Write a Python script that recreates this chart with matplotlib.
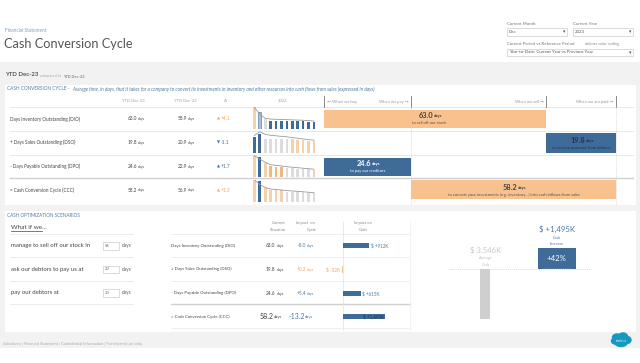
import matplotlib
matplotlib.use("Agg")
import matplotlib.pyplot as plt
from matplotlib.patches import Rectangle, Ellipse

plt.rcParams['font.family'] = ['Lato', 'DejaVu Sans']

# ---------------- data ----------------
metrics = ["Days Inventory Outstanding (DIO)", "+ Days Sales Outstanding (DSO)",
           "- Days Payable Outstanding (DPO)", "= Cash Conversion Cycle (CCC)"]
ytd_cur = [63.0, 19.8, 24.6, 58.2]
ytd_prev = [58.9, 20.9, 22.9, 56.9]
deltas = ["+4.1", "-1.1", "+1.7", "+1.3"]
delta_up = [True, False, True, True]
delta_good = [False, True, True, False]

months = list(range(12))
spark_bars = [
    [22, 17, 10.5, 8.7, 8.6, 8.5, 8.4, 8.3, 8.2, 8.0, 7.6, 7.0],
    [16, 18.3, 14, 14, 14, 14, 13.8, 13.5, 13.2, 12.8, 12.3, 11.7],
    [21.6, 20, 14, 10.8, 10.6, 10.4, 9.2, 9.0, 8.7, 8.3, 7.9, 7.5],
    [21.7, 20, 13.3, 11.7, 11.5, 11.3, 10, 9.8, 9.5, 9.2, 8.8, 8.3],
]
spark_line = [
    [22, 15, 11, 10.2, 10, 9.8, 9.6, 9.4, 9.2, 9.0, 8.7, 8.2],
    [17.3, 21, 18.5, 17.5, 17, 16.5, 16, 15.3, 14.6, 14, 13.3, 12.7],
    [21.6, 18, 15, 12.5, 11.8, 11.2, 10.5, 10, 9.5, 9, 8.5, 8],
    [21.7, 17, 14, 12.5, 12, 11.6, 11, 10.6, 10.2, 9.8, 9.3, 8.8],
]
spark_cls = [
    ["ol", "bl", "g", "b", "b", "b", "b", "b", "b", "b", "b", "b"],
    ["b", "b", "g", "g", "g", "g", "g", "ol", "ol", "ol", "ol", "ol"],
    ["ol", "b", "ol", "o", "o", "o", "g", "g", "g", "g", "g", "ol"],
    ["ol", "b", "ol", "ol", "ol", "ol", "g", "g", "g", "g", "g", "g"],
]

gantt_left = [0, 63.0, 0, 24.6]
gantt_width = [63.0, 19.8, 24.6, 58.2]
gantt_sub = ["to sell off our stock", "to receive payment from debtors",
             "to pay our creditors",
             "to convert your investments (e.g. inventory...) into cash inflows from sales"]
milestones = [0, 24.6, 63.0, 82.8]
milestone_labels = ["\u2190 When we buy", "When we pay \u2192", "When we sell \u2192", "When we are paid \u2192"]

scenario_text = ["manage to sell off our stock in", "ask our debtors to pay us at", "pay our debtors at"]
scenario_vals = ["56", "20", "30"]
impact_cycle = ["-8.0", "+0.2", "+5.4", "-13.2"]
impact_cash = [912, -32, 615, 1495]
impact_cash_lbl = ["$ +912K", "$ -32K", "$ +615K", "$ +1,495K"]

cash_cats = ["Average Cash", "Cash Increase"]
avg_cash = 3546
cash_increase = 1495

# ---------------- colours ----------------
BLUE = "#3f6b99"
BLUE_T = "#4e79a7"
ORANGE = "#f8c18d"
ORANGE_T = "#f3a65f"
GREY_BG = "#f2f2f2"
TXT = "#444444"
cmap = {"b": BLUE, "bl": "#a9bfd8", "g": "#dcdcdc", "ol": "#f6cfab", "o": "#f5b67c"}

W, H = 640, 363
fig = plt.figure(figsize=(6.4, 3.63), dpi=100)
cv = fig.add_axes([0, 0, 1, 1], zorder=0)
cv.set_xlim(0, W)
cv.set_ylim(H, 0)
cv.axis("off")
ov = fig.add_axes([0, 0, 1, 1], zorder=20)
ov.set_xlim(0, W)
ov.set_ylim(H, 0)
ov.axis("off")
ov.patch.set_alpha(0)


def ax_px(x0, y0, x1, y1):
    a = fig.add_axes([x0 / W, 1 - y1 / H, (x1 - x0) / W, (y1 - y0) / H], zorder=5)
    a.axis("off")
    a.patch.set_alpha(0)
    return a


def t(x, y, s, size=3.3, color=TXT, ha="left", va="center", **kw):
    return ov.text(x, y, s, fontsize=size, color=color, ha=ha, va=va, **kw)


def rect(x0, y0, x1, y1, fc, ec="none", lw=0.5, z=0):
    cv.add_patch(Rectangle((x0, y0), x1 - x0, y1 - y0, facecolor=fc, edgecolor=ec, lw=lw, zorder=z))


def hline(x0, x1, y, color="#e4e4e4", lw=0.6, ls="-"):
    cv.plot([x0, x1], [y, y], color=color, lw=lw, ls=ls)


def vline(x, y0, y1, color="#e4e4e4", lw=0.6, ls="-", top=False):
    (ov if top else cv).plot([x, x], [y0, y1], color=color, lw=lw, ls=ls)


# backgrounds
rect(0, 62, 640, 348, GREY_BG)
rect(5, 85, 636, 205, "white")
rect(5, 211, 636, 332, "white")

# header
t(5, 31, "Financial Statement", 3.4, "#7f9fc0")
t(4, 44, "Cash Conversion Cycle", 9.2, "#555555")

t(507, 24, "Current Month", 3.2, "#777777")
t(573, 24, "Current Year", 3.2, "#777777")
rect(507, 28, 567, 35.5, "white", "#cccccc", 0.5)
rect(573, 28, 633, 35.5, "white", "#cccccc", 0.5)
t(509, 31.8, "Dec", 3.2, "#555555")
t(575, 31.8, "2023", 3.2, "#555555")
t(564, 31.8, "\u25be", 3.5, "#555555", ha="center", family="DejaVu Sans")
t(630, 31.8, "\u25be", 3.5, "#555555", ha="center", family="DejaVu Sans")
t(507, 44, "Current Period vs Reference Period", 3.2, "#777777")
t(585, 44, "defines color coding", 3.0, "#888888", style="italic")
rect(507, 48.5, 633, 56, "white", "#cccccc", 0.5)
t(509, 52.3, "Year-to-Date: Current Year vs Previous Year", 3.2, "#555555")
t(630, 52.3, "\u25be", 3.5, "#555555", ha="center", family="DejaVu Sans")

t1 = t(5, 76, "YTD Dec-23", 4.3, "#555555", weight="bold", va="baseline")
t2 = ov.annotate("compared to", xy=(1, 0), xycoords=t1, xytext=(1.5, 0), textcoords="offset points",
                 fontsize=2.8, color="#aaaaaa", ha="left", va="baseline")
ov.annotate("YTD Dec-22", xy=(1, 0), xycoords=t2, xytext=(1.2, 0), textcoords="offset points",
            fontsize=2.8, color="#888888", weight="bold", ha="left", va="baseline")

# panel 1 title
t(7, 89, "CASH CONVERSION CYCLE - ", 3.45, BLUE_T)
t(72, 89, "Average time, in days, that it takes for a company to convert its investments in inventory "
          "and other resources into cash flows from sales (expressed in days)", 3.45, BLUE_T, style="italic")

# column headers
HC = "#8aa5c4"
t(133, 100.5, "YTD Dec-23", 3.0, HC, ha="center")
t(185, 100.5, "YTD Dec-22", 3.0, HC, ha="center")
t(225, 100.5, "\u0394", 3.2, HC, ha="center", family="DejaVu Sans")
t(283, 100.5, "2023", 3.0, HC, ha="center")

row_y = [119.0, 142.7, 166.7, 190.0]
for y in [106.7, 130.7, 155.0]:
    hline(10, 633, y)
hline(10, 633, 178.3, "#d0d0d0", 1.0)

for i in range(4):
    y = row_y[i]
    t(10, y, metrics[i], 3.3, TXT)
    t(137, y, f"{ytd_cur[i]:.1f}", 3.4, TXT, ha="right")
    t(137.6, y + 0.4, "days", 2.5, TXT)
    t(187, y, f"{ytd_prev[i]:.1f}", 3.4, TXT, ha="right")
    t(187.6, y + 0.4, "days", 2.5, TXT)
    col = BLUE if delta_good[i] else ORANGE_T
    t(217, y, "\u25b2" if delta_up[i] else "\u25bc", 2.8, col, family="DejaVu Sans")
    t(220.3, y, deltas[i], 3.4, col)

# sparklines
spark_rows = [(107, 129.3), (131.5, 153.3), (155.3, 177.3), (179.5, 201.7)]
for i, (y0, y1) in enumerate(spark_rows):
    a = ax_px(251.6, y0, 316.7, y1)
    cols = [cmap[c] for c in spark_cls[i]]
    bars = a.bar(months, spark_bars[i], width=0.5, color=cols)
    if i == 0:
        bars[1].set_edgecolor(BLUE)
        bars[1].set_linewidth(0.4)
    a.plot(months, spark_line[i], color="#9a9a9a", lw=0.6)
    a.set_xlim(-0.5, 11.5)
    a.set_ylim(0, max(max(spark_bars[i]), max(spark_line[i])) * 1.01)

# gantt / timeline
ga = ax_px(324.3, 107, 616.3, 205)
ga.set_xlim(0, milestones[-1])
ga.set_ylim(205, 107)
gcol = [ORANGE, BLUE, BLUE, ORANGE]
gh = [18.3, 19.5, 18.5, 19.5]
gy = [119.2, 142.9, 166.9, 189.7]
ga.barh(gy, gantt_width, left=gantt_left, height=gh, color=gcol)


def gx(v):
    return 324.3 + v / milestones[-1] * 292.0


# timeline header
for m, lbl in zip(milestones, milestone_labels):
    xpx = gx(m)
    vline(xpx, 96, 107, "#888888", 0.7)
    if lbl.startswith("\u2190"):
        t(xpx + 2.5, 101.7, lbl, 3.0, "#999999", ha="left")
    else:
        t(xpx - 2.5, 101.7, lbl, 3.0, "#999999", ha="right")
vline(gx(24.6), 107, 205, "#cfcfcf", 0.5, (0, (1.5, 1.5)), top=True)
vline(gx(82.8), 107, 205, "#cfcfcf", 0.5, (0, (1.5, 1.5)), top=True)

# gantt labels
t(gx(26.7), 115.5, f"{ytd_cur[0]:.1f}", 5.3, "#444444", weight="bold")
t(gx(26.7) + 15.5, 116.2, "days", 3.0, "#444444", weight="bold")
t(gx(25.0), 123.3, gantt_sub[0], 3.0, "#555555")

cx = gx(72.9)
t(cx - 3.5, 140.2, f"{ytd_cur[1]:.1f}", 5.3, "#1f3550", ha="center", weight="bold")
t(cx + 4.5, 140.9, "days", 3.0, "#1f3550", weight="bold")
t(cx, 148.3, gantt_sub[1], 3.0, "#1f3550", ha="center")

cx = gx(12.3)
t(cx - 3.5, 163.5, f"{ytd_cur[2]:.1f}", 5.3, "white", ha="center", weight="bold")
t(cx + 4.5, 164.2, "days", 3.0, "white", weight="bold")
t(cx, 170.8, gantt_sub[2], 3.0, "white", ha="center")

cx = gx(53.7)
t(cx - 3.5, 187.5, f"{ytd_cur[3]:.1f}", 5.3, "#444444", ha="center", weight="bold")
t(cx + 4.5, 188.2, "days", 3.0, "#444444", weight="bold")
t(cx, 195.2, gantt_sub[3], 3.0, "#555555", ha="center")

# ---------------- panel 2 ----------------
t(7, 215.7, "CASH OPTIMIZATION SCENARIOS", 3.3, BLUE_T)
t(11, 227.7, "What if we...", 4.6, "#444444")
hline(11, 41.5, 231.0, "#444444", 0.5)

srow = [245.7, 269.3, 292.7]
for y in [234, 257.3, 280.7, 304.3]:
    hline(10, 133, y, "#e8e8e8", 0.6)
for i in range(3):
    t(11, srow[i], scenario_text[i], 4.3, "#444444")
    rect(103, srow[i] - 3.8, 119.3, srow[i] + 3.8, "white", "#cccccc", 0.5)
    t(105, srow[i], scenario_vals[i], 3.0, "#666666")
    t(122, srow[i], "days", 3.4, "#555555")

# right table
t(285.7, 223.3, "Current", 3.0, "#888888", ha="right")
t(285.7, 230.0, "Situation", 3.0, "#888888", ha="right")
t(305, 223.3, "Impact  on", 3.0, "#888888", ha="center")
t(316.7, 230.0, "Cycle", 3.0, "#888888", ha="right")
t(363.3, 223.3, "Impact on", 3.0, "#888888", ha="center")
t(363.3, 230.0, "Cash", 3.0, "#888888", ha="center")

trow = [245.7, 269.3, 293.3, 316.7]
for y in [234, 257.3, 281, 328.3]:
    hline(171, 410, y, "#ececec", 0.6)
hline(171, 410, 304.3, "#d0d0d0", 1.0)
vline(343.3, 222, 330, "#e6e6e6", 0.6)
vline(410, 222, 330, "#f0f0f0", 0.6)

for i in range(4):
    y = trow[i]
    big = (i == 3)
    t(171, y, metrics[i], 3.1, TXT)
    t(275.5 if not big else 273.5, y, f"{ytd_cur[i]:.1f}", 5.0 if big else 3.4, TXT, ha="right")
    t(276.3 if not big else 274.3, y + 0.4, "days", 3.0 if big else 2.6, TXT)
    col = ORANGE_T if impact_cycle[i].startswith("+0") else BLUE_T
    t(306.5 if not big else 304.5, y, impact_cycle[i], 5.0 if big else 3.4, col, ha="right")
    t(307.2 if not big else 305.2, y + 0.4, "days", 3.0 if big else 2.6, col)

ia = ax_px(300, 234, 410, 328.3)
ia.set_xlim(-(343.3 - 300) / 0.0282, (410 - 343.3) / 0.0282)
ia.set_ylim(328.3, 234)
icol = [BLUE if v > 0 else ORANGE for v in impact_cash]
ia.barh(trow, impact_cash, height=[4.5, 4.5, 4.8, 5.3], color=icol)
for i in range(4):
    v = impact_cash[i]
    if i == 3:
        ia.text(v - 60, trow[i], impact_cash_lbl[i], fontsize=3.3, color="#1f3550", ha="right", va="center")
    elif v > 0:
        ia.text(v + 60, trow[i], impact_cash_lbl[i], fontsize=3.3, color=BLUE_T, ha="left", va="center")
    else:
        ia.text(v - 90, trow[i], impact_cash_lbl[i], fontsize=3.3, color=ORANGE_T, ha="right", va="center")
ia.plot([-32, -32], [trow[1] - 3, trow[1] + 3], color=ORANGE, lw=0.8)

# cash chart
pxk = 50.0 / avg_cash
ca = ax_px(449.3, 240, 592.3, 319)
ca.set_ylim(0, 79 / pxk)
ca.set_xlim(-35.7 / 72, 1 + (592.3 - 557) / 72)
ca.bar([0], [avg_cash], width=10 / 72, color="#cfcfcf")
ca.bar([1], [cash_increase], bottom=[avg_cash], width=37.4 / 72, color=BLUE)
ca.axhline(avg_cash, color="#cccccc", lw=0.5, ls=(0, (1.5, 1.5)))
ca.axhline(0, color="#e3e3e3", lw=0.8)
ca.text(1, avg_cash + cash_increase / 2, f"+{cash_increase / avg_cash * 100:.0f}%", fontsize=5.6,
        color="white", ha="center", va="center")
ca.plot([0.8, 1.2], [avg_cash + 80, avg_cash + 80], color="#8fa9c7", lw=0.4, ls=(0, (1, 2)))

t(486, 250.7, "$ 3,546K", 5.6, "#c8c8c8", ha="center")
t(486, 258.3, "Average", 2.8, "#c0c0c0", ha="center")
t(486, 265.0, "Cash", 2.8, "#c0c0c0", ha="center")
t(556.7, 229.3, "$ +1,495K", 5.6, BLUE_T, ha="center")
t(556.7, 237.7, "Cash", 2.8, BLUE_T, ha="center")
t(556.7, 244.0, "Increase", 2.8, BLUE_T, ha="center")

# footer
t(3, 344.3, "Salesforce | Financial Statement | Confidential Information | For internal use only", 2.9, "#aaaaaa")
for (ex, ey, ew, eh) in [(617, 337.5, 9, 7), (623, 336.5, 9, 7), (627, 340, 8, 7),
                         (621, 343, 12, 7), (615, 341, 7, 6)]:
    cv.add_patch(Ellipse((ex, ey), ew, eh, color="#1798c1"))
t(621.5, 340.5, "salesforce", 1.8, "white", ha="center")

fig.savefig("out.png", dpi=100)
